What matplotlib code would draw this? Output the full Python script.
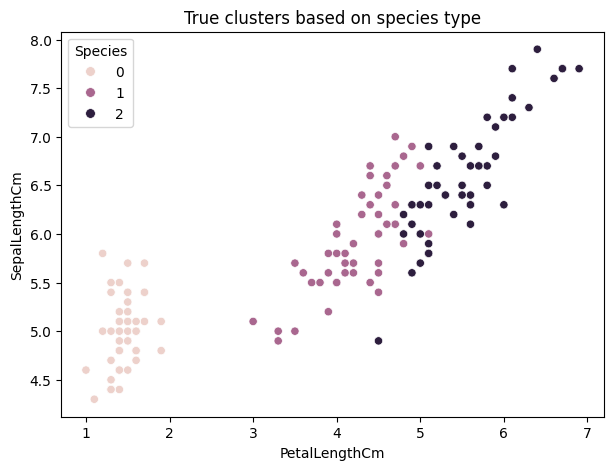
import matplotlib
matplotlib.use('Agg')

import matplotlib.pyplot as plt
import pandas as pd
import seaborn as sns

# Iris: petal length / sepal length, species coded 0, 1, 2
petal_length_0 = [1.4, 1.4, 1.3, 1.5, 1.4, 1.7, 1.4, 1.5, 1.4, 1.5,
                  1.5, 1.6, 1.4, 1.1, 1.2, 1.5, 1.3, 1.4, 1.7, 1.5,
                  1.7, 1.5, 1.0, 1.7, 1.9, 1.6, 1.6, 1.5, 1.4, 1.6,
                  1.6, 1.5, 1.5, 1.4, 1.5, 1.2, 1.3, 1.5, 1.3, 1.5,
                  1.3, 1.3, 1.3, 1.6, 1.9, 1.4, 1.6, 1.4, 1.5, 1.4]
sepal_length_0 = [5.1, 4.9, 4.7, 4.6, 5.0, 5.4, 4.6, 5.0, 4.4, 4.9,
                  5.4, 4.8, 4.8, 4.3, 5.8, 5.7, 5.4, 5.1, 5.7, 5.1,
                  5.4, 5.1, 4.6, 5.1, 4.8, 5.0, 5.0, 5.2, 5.2, 4.7,
                  4.8, 5.4, 5.2, 5.5, 4.9, 5.0, 5.5, 4.9, 4.4, 5.1,
                  5.0, 4.5, 4.4, 5.0, 5.1, 4.8, 5.1, 4.6, 5.3, 5.0]

petal_length_1 = [4.7, 4.5, 4.9, 4.0, 4.6, 4.5, 4.7, 3.3, 4.6, 3.9,
                  3.5, 4.2, 4.0, 4.7, 3.6, 4.4, 4.5, 4.1, 4.5, 3.9,
                  4.8, 4.0, 4.9, 4.7, 4.3, 4.4, 4.8, 5.0, 4.5, 3.5,
                  3.8, 3.7, 3.9, 5.1, 4.5, 4.5, 4.7, 4.4, 4.1, 4.0,
                  4.4, 4.6, 4.0, 3.3, 4.2, 4.2, 4.2, 4.3, 3.0, 4.1]
sepal_length_1 = [7.0, 6.4, 6.9, 5.5, 6.5, 5.7, 6.3, 4.9, 6.6, 5.2,
                  5.0, 5.9, 6.0, 6.1, 5.6, 6.7, 5.6, 5.8, 6.2, 5.6,
                  5.9, 6.1, 6.3, 6.1, 6.4, 6.6, 6.8, 6.7, 6.0, 5.7,
                  5.5, 5.5, 5.8, 6.0, 5.4, 6.0, 6.7, 6.3, 5.6, 5.5,
                  5.5, 6.1, 5.8, 5.0, 5.6, 5.7, 5.7, 6.2, 5.1, 5.7]

petal_length_2 = [6.0, 5.1, 5.9, 5.6, 5.8, 6.6, 4.5, 6.3, 5.8, 6.1,
                  5.1, 5.3, 5.5, 5.0, 5.1, 5.3, 5.5, 6.7, 6.9, 5.0,
                  5.7, 4.9, 6.7, 4.9, 5.7, 6.0, 4.8, 4.9, 5.6, 5.8,
                  6.1, 6.4, 5.6, 5.1, 5.6, 6.1, 5.6, 5.5, 4.8, 5.4,
                  5.6, 5.1, 5.1, 5.9, 5.7, 5.2, 5.0, 5.2, 5.4, 5.1]
sepal_length_2 = [6.3, 5.8, 7.1, 6.3, 6.5, 7.6, 4.9, 7.3, 6.7, 7.2,
                  6.5, 6.4, 6.8, 5.7, 5.8, 6.4, 6.5, 7.7, 7.7, 6.0,
                  6.9, 5.6, 7.7, 6.3, 6.7, 7.2, 6.2, 6.1, 6.4, 7.2,
                  7.4, 7.9, 6.4, 6.3, 6.1, 7.7, 6.3, 6.4, 6.0, 6.9,
                  6.7, 6.9, 5.8, 6.8, 6.7, 6.7, 6.3, 6.5, 6.2, 5.9]

df = pd.DataFrame({
    'PetalLengthCm': petal_length_0 + petal_length_1 + petal_length_2,
    'SepalLengthCm': sepal_length_0 + sepal_length_1 + sepal_length_2,
    'Species': [0] * 50 + [1] * 50 + [2] * 50,
})

fig, ax = plt.subplots(figsize=(7, 5))
sns.scatterplot(data=df, x='PetalLengthCm', y='SepalLengthCm', hue='Species', ax=ax)
ax.set_title('True clusters based on species type')

# legend dots a bit bigger than the data dots
for h in ax.get_legend().legend_handles:
    h.set_markersize(7)

plt.savefig('out.png', dpi=100, bbox_inches='tight')
